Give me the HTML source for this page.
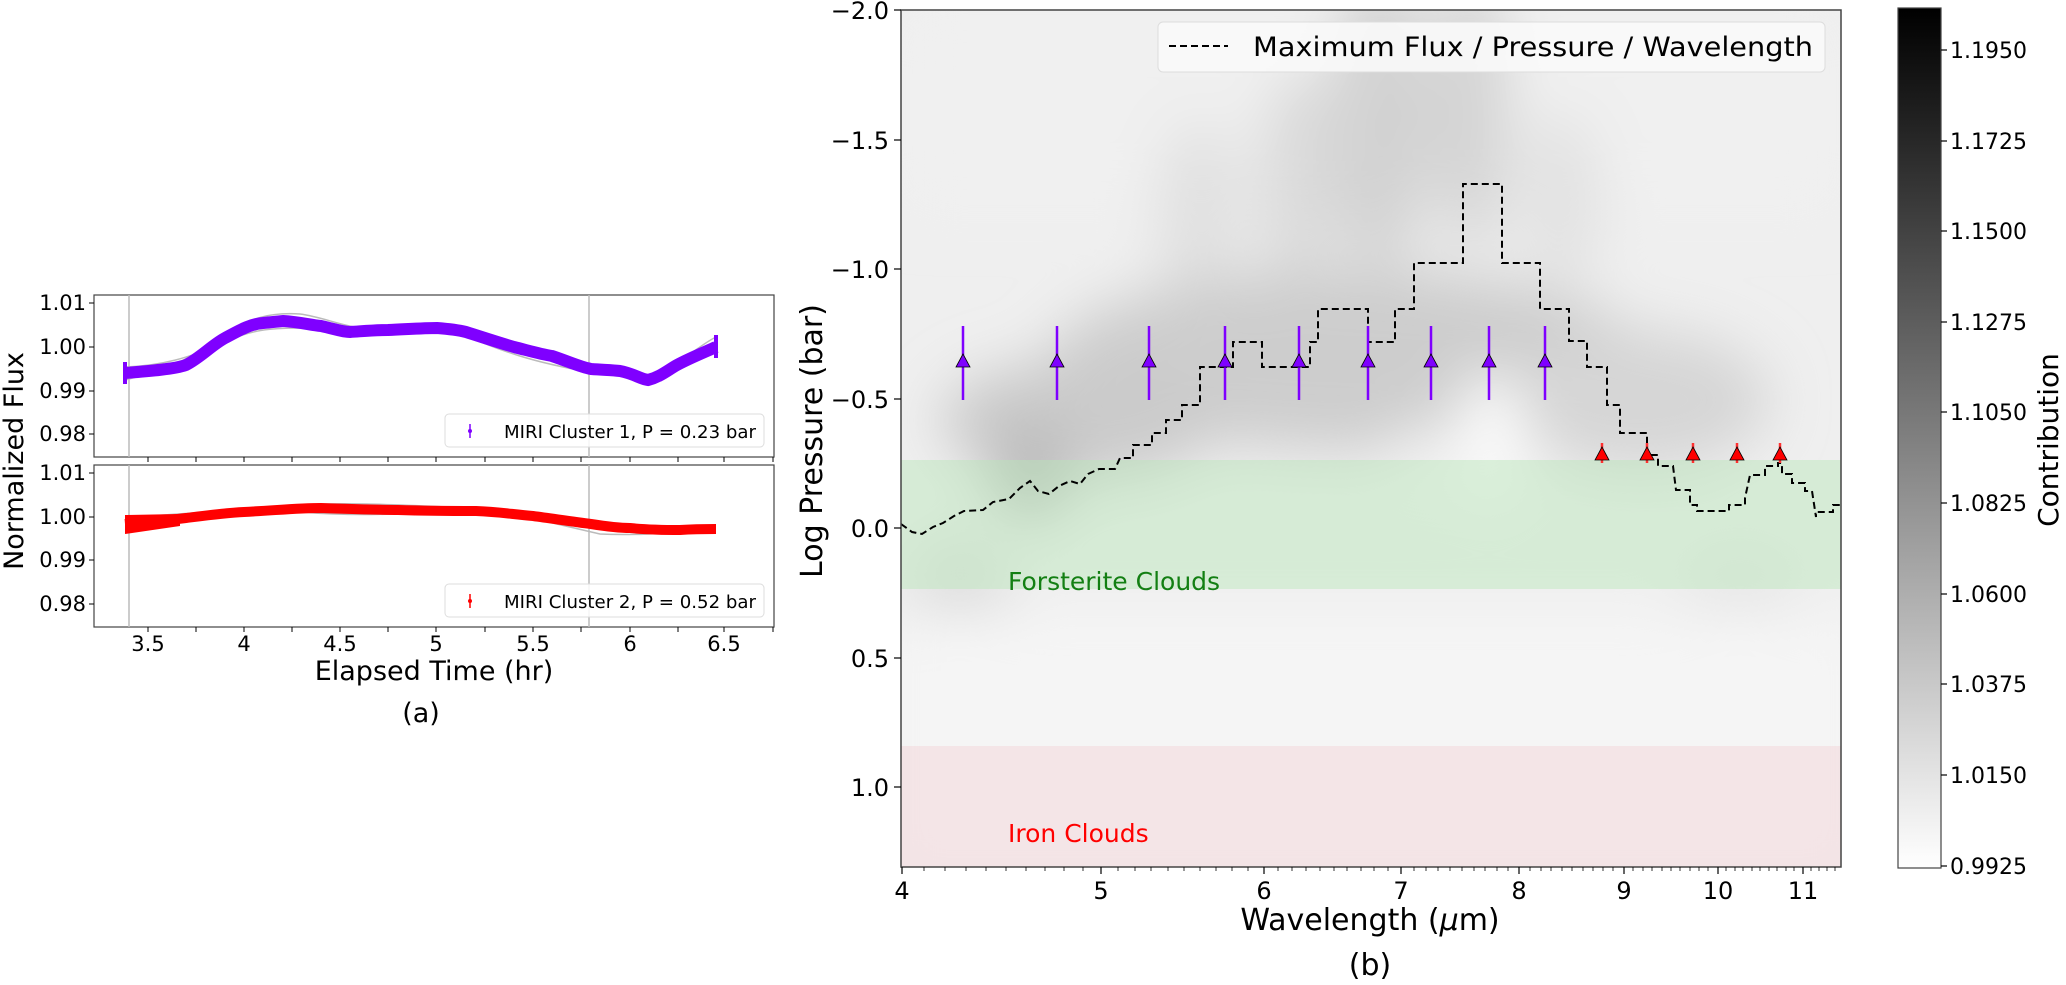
<!DOCTYPE html>
<html><head><meta charset="utf-8"><style>
html,body{margin:0;padding:0;background:#fff;}
svg{display:block;}
text{font-family:"DejaVu Sans","Liberation Sans",sans-serif;fill:#000;}
</style></head><body>
<svg width="2066" height="985" viewBox="0 0 2066 985" xmlns="http://www.w3.org/2000/svg">
<defs>
<filter id="bl" x="-50%" y="-50%" width="200%" height="200%"><feGaussianBlur stdDeviation="28"/></filter>
<linearGradient id="cb" x1="0" y1="1" x2="0" y2="0">
<stop offset="0" stop-color="#ffffff"/><stop offset="1" stop-color="#000000"/></linearGradient>
<clipPath id="cp"><rect x="901" y="10" width="940" height="857"/></clipPath>
</defs>

<!-- ===== LEFT PANEL (a) ===== -->
<g stroke="#000" stroke-width="1.2" fill="none">
<rect x="94" y="295" width="680" height="162" stroke="#444"/>
<rect x="94" y="465" width="680" height="162" stroke="#444"/>
</g>
<line x1="129" y1="295" x2="129" y2="457" stroke="#bbb" stroke-width="1.5"/>
<line x1="589" y1="295" x2="589" y2="457" stroke="#bbb" stroke-width="1.5"/>
<line x1="129" y1="465" x2="129" y2="627" stroke="#bbb" stroke-width="1.5"/>
<line x1="589" y1="465" x2="589" y2="627" stroke="#bbb" stroke-width="1.5"/>
<path d="M125,380 C160,372 190,360 225,335 C250,318 270,312 300,314 C330,318 345,330 390,330 C420,326 440,324 466,330 C500,340 530,352 590,365 C620,372 640,382 650,384 C670,370 700,345 716,337" fill="none" stroke="#bbb" stroke-width="1.5"/>
<path d="M125,367 C160,366 190,358 225,342 C250,330 270,328 300,328 C330,330 345,336 390,334 C420,332 440,332 466,336 C500,350 530,362 590,372 C620,374 640,378 650,376 C670,364 700,354 716,352" fill="none" stroke="#bbb" stroke-width="1.5"/>
<path d="M125,373 C150,371 175,369 186,365 C200,358 212,345 225,338 C240,330 250,324 263,323 L283,321 C300,322 310,325 321,326 C335,329 342,332 350,332 C365,331 375,330 388,330 C410,329 425,328 437,328 C450,329 458,330 466,332 C485,338 500,343 514,347 C530,351 540,354 552,356 C570,362 580,367 591,369 C605,370 612,370 620,371 C635,374 640,379 648,380 C660,377 668,370 677,365 C690,358 705,352 716,347" fill="none" stroke="#7f00ff" stroke-width="12"/>
<line x1="125" y1="362" x2="125" y2="384" stroke="#7f00ff" stroke-width="4"/>
<line x1="716" y1="335" x2="716" y2="358" stroke="#7f00ff" stroke-width="4"/>
<path d="M125,530 C180,520 230,510 300,505 C350,502 400,505 470,508 C520,514 560,525 600,534 C640,536 680,532 716,530" fill="none" stroke="#bbb" stroke-width="1.5"/>
<path d="M125,518 C180,514 230,508 300,512 C350,516 400,515 470,510 C520,514 560,520 600,528 C640,530 680,528 716,526" fill="none" stroke="#bbb" stroke-width="1.5"/>
<path d="M125,524 C150,522 170,520 186,518 C210,515 225,513 244,512 C280,510 300,508 321,508 C350,509 380,510 398,510 C430,511 450,511 476,511 C500,512 510,514 533,516 C555,519 575,522 591,524 C610,527 620,528 630,528 C650,530 665,530 680,530 C695,529 705,529 716,529" fill="none" stroke="#ff0000" stroke-width="10"/>
<path d="M125,515 L180,514 L180,526 L125,534 Z" fill="#ff0000"/>
<rect x="445" y="414" width="319" height="33" rx="4" fill="#fff" fill-opacity="0.85" stroke="#ddd"/>
<line x1="470" y1="424" x2="470" y2="438" stroke="#7f00ff" stroke-width="1.5"/><circle cx="470" cy="431" r="2" fill="#7f00ff"/>
<text x="504" y="438" font-size="18" textLength="252" lengthAdjust="spacingAndGlyphs">MIRI Cluster 1, P = 0.23 bar</text>
<rect x="445" y="584" width="319" height="33" rx="4" fill="#fff" fill-opacity="0.85" stroke="#ddd"/>
<line x1="470" y1="594" x2="470" y2="608" stroke="#ff0000" stroke-width="1.5"/><circle cx="470" cy="601" r="2" fill="#ff0000"/>
<text x="504" y="608" font-size="18" textLength="252" lengthAdjust="spacingAndGlyphs">MIRI Cluster 2, P = 0.52 bar</text>
<g stroke="#000" stroke-width="1">
<line x1="89" y1="303" x2="94" y2="303"/><line x1="89" y1="347" x2="94" y2="347"/><line x1="89" y1="391" x2="94" y2="391"/><line x1="89" y1="434" x2="94" y2="434"/>
<line x1="89" y1="473" x2="94" y2="473"/><line x1="89" y1="517" x2="94" y2="517"/><line x1="89" y1="560" x2="94" y2="560"/><line x1="89" y1="604" x2="94" y2="604"/>
</g>
<g font-size="21" text-anchor="end">
<text x="86" y="310">1.01</text><text x="86" y="354">1.00</text><text x="86" y="398">0.99</text><text x="86" y="441">0.98</text>
<text x="86" y="480">1.01</text><text x="86" y="524">1.00</text><text x="86" y="567">0.99</text><text x="86" y="611">0.98</text>
</g>
<g stroke="#000" stroke-width="1">
<line x1="148" y1="457" x2="148" y2="462"/><line x1="196" y1="457" x2="196" y2="462"/><line x1="244" y1="457" x2="244" y2="462"/><line x1="292" y1="457" x2="292" y2="462"/><line x1="340" y1="457" x2="340" y2="462"/><line x1="388" y1="457" x2="388" y2="462"/><line x1="436" y1="457" x2="436" y2="462"/><line x1="485" y1="457" x2="485" y2="462"/><line x1="533" y1="457" x2="533" y2="462"/><line x1="581" y1="457" x2="581" y2="462"/><line x1="630" y1="457" x2="630" y2="462"/><line x1="678" y1="457" x2="678" y2="462"/><line x1="724" y1="457" x2="724" y2="462"/><line x1="773" y1="457" x2="773" y2="462"/>
<line x1="148" y1="627" x2="148" y2="632"/><line x1="196" y1="627" x2="196" y2="632"/><line x1="244" y1="627" x2="244" y2="632"/><line x1="292" y1="627" x2="292" y2="632"/><line x1="340" y1="627" x2="340" y2="632"/><line x1="388" y1="627" x2="388" y2="632"/><line x1="436" y1="627" x2="436" y2="632"/><line x1="485" y1="627" x2="485" y2="632"/><line x1="533" y1="627" x2="533" y2="632"/><line x1="581" y1="627" x2="581" y2="632"/><line x1="630" y1="627" x2="630" y2="632"/><line x1="678" y1="627" x2="678" y2="632"/><line x1="724" y1="627" x2="724" y2="632"/><line x1="773" y1="627" x2="773" y2="632"/>
</g>
<g font-size="21" text-anchor="middle">
<text x="148" y="651">3.5</text><text x="244" y="651">4</text><text x="340" y="651">4.5</text><text x="436" y="651">5</text><text x="533" y="651">5.5</text><text x="630" y="651">6</text><text x="724" y="651">6.5</text>
</g>
<text x="434" y="680" font-size="27" text-anchor="middle">Elapsed Time (hr)</text>
<text x="421" y="722" font-size="27" text-anchor="middle">(a)</text>
<text transform="translate(23,461) rotate(-90)" font-size="27" text-anchor="middle">Normalized Flux</text>

<!-- ===== RIGHT PANEL (b) ===== -->
<g clip-path="url(#cp)">
<rect x="901" y="10" width="940" height="857" fill="#efefef"/>
<g filter="url(#bl)">
<rect x="901" y="10" width="940" height="200" fill="#f0f0f0"/>
<ellipse cx="1380" cy="120" rx="50" ry="150" fill="#d2d2d2"/>
<ellipse cx="1470" cy="110" rx="40" ry="140" fill="#d4d4d4"/>
<ellipse cx="1300" cy="180" rx="40" ry="110" fill="#dadada"/>
<ellipse cx="1200" cy="220" rx="40" ry="100" fill="#e0e0e0"/>
<ellipse cx="1560" cy="200" rx="40" ry="90" fill="#e2e2e2"/>
<ellipse cx="1350" cy="360" rx="300" ry="90" fill="#cdcdcd"/>
<ellipse cx="1080" cy="420" rx="140" ry="60" fill="#cbcbcb"/>
<ellipse cx="1030" cy="470" rx="40" ry="50" fill="#bbbbbb"/>
<ellipse cx="1640" cy="400" rx="130" ry="70" fill="#d6d6d6"/>
<ellipse cx="1490" cy="440" rx="35" ry="70" fill="#fafafa"/>
<ellipse cx="1420" cy="460" rx="25" ry="40" fill="#f2f2f2"/>
<ellipse cx="1740" cy="600" rx="60" ry="50" fill="#e6e6e6"/>
<ellipse cx="960" cy="600" rx="50" ry="60" fill="#dcdcdc"/>
<rect x="880" y="610" width="990" height="280" fill="#f5f5f5"/>
</g>
</g>
<rect x="901" y="460" width="940" height="129" fill="#b8e6b8" fill-opacity="0.45"/>
<rect x="901" y="746" width="940" height="121" fill="#f2cdd2" fill-opacity="0.4"/>
<text x="1008" y="590" font-size="25" style="fill:#137f13">Forsterite Clouds</text>
<text x="1008" y="842" font-size="25" style="fill:#ff0000">Iron Clouds</text>
<path d="M901,524 L912,532 L922,534 L933,527 L943,523 L954,516 L964,511 L983,510 L993,502 L1009,499 L1020,488 L1030,481 L1038,491 L1049,494 L1059,486 L1070,481 L1080,484 L1088,474 L1099,469 L1115,469 L1120,458 H1133 V445 H1152 V433 H1166 V420 H1182 V405 H1200 V387 H1200 V367 H1233 V342 H1262 V367 H1310 V342 H1318 V309 H1368 V342 H1395 V309 H1414 V263 H1463 V184 H1502 V263 H1540 V309 H1569 V341 H1587 V367 H1607 V405 H1620 V433 H1647 V455 H1658 V466 H1673 L1676,490 H1690 V505 H1697 V511 H1729 V505 H1745 V498 L1750,475 H1765 V466 H1778 V463 H1782 V474 H1792 V483 H1805 V491 H1812 L1816,517 V512 H1833 V505 H1841" fill="none" stroke="#000" stroke-width="2" stroke-dasharray="7,4"/>
<g stroke="#7f00ff" stroke-width="2.5">
<line x1="963" y1="326" x2="963" y2="400"/><line x1="1057" y1="326" x2="1057" y2="400"/><line x1="1149" y1="326" x2="1149" y2="400"/><line x1="1225" y1="326" x2="1225" y2="400"/><line x1="1299" y1="326" x2="1299" y2="400"/><line x1="1368" y1="326" x2="1368" y2="400"/><line x1="1431" y1="326" x2="1431" y2="400"/><line x1="1489" y1="326" x2="1489" y2="400"/><line x1="1545" y1="326" x2="1545" y2="400"/>
</g>
<g fill="#7f00ff" stroke="#000" stroke-width="0.8">
<path d="M963,354 l-7,13 h14z"/><path d="M1057,354 l-7,13 h14z"/><path d="M1149,354 l-7,13 h14z"/><path d="M1225,354 l-7,13 h14z"/><path d="M1299,354 l-7,13 h14z"/><path d="M1368,354 l-7,13 h14z"/><path d="M1431,354 l-7,13 h14z"/><path d="M1489,354 l-7,13 h14z"/><path d="M1545,354 l-7,13 h14z"/>
</g>
<g stroke="#ff3030" stroke-width="2.5">
<line x1="1602" y1="443" x2="1602" y2="463"/><line x1="1647" y1="443" x2="1647" y2="463"/><line x1="1693" y1="443" x2="1693" y2="463"/><line x1="1737" y1="443" x2="1737" y2="463"/><line x1="1780" y1="443" x2="1780" y2="463"/>
</g>
<g fill="#ff0000" stroke="#000" stroke-width="0.8">
<path d="M1602,447 l-7,13 h14z"/><path d="M1647,447 l-7,13 h14z"/><path d="M1693,447 l-7,13 h14z"/><path d="M1737,447 l-7,13 h14z"/><path d="M1780,447 l-7,13 h14z"/>
</g>
<rect x="1158" y="22" width="667" height="50" rx="5" fill="#fafafa" fill-opacity="0.9" stroke="#ddd"/>
<line x1="1169" y1="46" x2="1228" y2="46" stroke="#000" stroke-width="2" stroke-dasharray="7,4"/>
<text x="1253" y="56" font-size="27" textLength="560" lengthAdjust="spacingAndGlyphs">Maximum Flux / Pressure / Wavelength</text>
<rect x="901" y="10" width="940" height="857" fill="none" stroke="#444" stroke-width="1.5"/>
<g stroke="#000" stroke-width="1.2">
<line x1="894" y1="10" x2="901" y2="10"/><line x1="894" y1="140" x2="901" y2="140"/><line x1="894" y1="269" x2="901" y2="269"/><line x1="894" y1="399" x2="901" y2="399"/><line x1="894" y1="528" x2="901" y2="528"/><line x1="894" y1="658" x2="901" y2="658"/><line x1="894" y1="787" x2="901" y2="787"/>
</g>
<g font-size="24" text-anchor="end">
<text x="889" y="19">−2.0</text><text x="889" y="149">−1.5</text><text x="889" y="278">−1.0</text><text x="889" y="408">−0.5</text><text x="889" y="537">0.0</text><text x="889" y="667">0.5</text><text x="889" y="796">1.0</text>
</g>
<text transform="translate(822,441) rotate(-90)" font-size="30" text-anchor="middle">Log Pressure (bar)</text>
<g stroke="#000" stroke-width="1.2">
<line x1="902" y1="867" x2="902" y2="874"/><line x1="1101" y1="867" x2="1101" y2="874"/><line x1="1264" y1="867" x2="1264" y2="874"/><line x1="1401" y1="867" x2="1401" y2="874"/><line x1="1519" y1="867" x2="1519" y2="874"/><line x1="1624" y1="867" x2="1624" y2="874"/><line x1="1718" y1="867" x2="1718" y2="874"/><line x1="1803" y1="867" x2="1803" y2="874"/>
</g>
<g stroke="#000" stroke-width="0.8">
<line x1="924" y1="867" x2="924" y2="871"/><line x1="945" y1="867" x2="945" y2="871"/><line x1="966" y1="867" x2="966" y2="871"/><line x1="986" y1="867" x2="986" y2="871"/><line x1="1006" y1="867" x2="1006" y2="871"/><line x1="1026" y1="867" x2="1026" y2="871"/><line x1="1045" y1="867" x2="1045" y2="871"/><line x1="1064" y1="867" x2="1064" y2="871"/><line x1="1083" y1="867" x2="1083" y2="871"/>
<line x1="1118" y1="867" x2="1118" y2="871"/><line x1="1135" y1="867" x2="1135" y2="871"/><line x1="1151" y1="867" x2="1151" y2="871"/><line x1="1168" y1="867" x2="1168" y2="871"/><line x1="1184" y1="867" x2="1184" y2="871"/><line x1="1200" y1="867" x2="1200" y2="871"/><line x1="1216" y1="867" x2="1216" y2="871"/><line x1="1232" y1="867" x2="1232" y2="871"/><line x1="1248" y1="867" x2="1248" y2="871"/>
<line x1="1278" y1="867" x2="1278" y2="871"/><line x1="1292" y1="867" x2="1292" y2="871"/><line x1="1306" y1="867" x2="1306" y2="871"/><line x1="1320" y1="867" x2="1320" y2="871"/><line x1="1334" y1="867" x2="1334" y2="871"/><line x1="1347" y1="867" x2="1347" y2="871"/><line x1="1361" y1="867" x2="1361" y2="871"/><line x1="1374" y1="867" x2="1374" y2="871"/><line x1="1388" y1="867" x2="1388" y2="871"/>
<line x1="1414" y1="867" x2="1414" y2="871"/><line x1="1426" y1="867" x2="1426" y2="871"/><line x1="1438" y1="867" x2="1438" y2="871"/><line x1="1450" y1="867" x2="1450" y2="871"/><line x1="1462" y1="867" x2="1462" y2="871"/><line x1="1474" y1="867" x2="1474" y2="871"/><line x1="1485" y1="867" x2="1485" y2="871"/><line x1="1497" y1="867" x2="1497" y2="871"/><line x1="1508" y1="867" x2="1508" y2="871"/>
<line x1="1530" y1="867" x2="1530" y2="871"/><line x1="1541" y1="867" x2="1541" y2="871"/><line x1="1551" y1="867" x2="1551" y2="871"/><line x1="1562" y1="867" x2="1562" y2="871"/><line x1="1572" y1="867" x2="1572" y2="871"/><line x1="1583" y1="867" x2="1583" y2="871"/><line x1="1593" y1="867" x2="1593" y2="871"/><line x1="1603" y1="867" x2="1603" y2="871"/><line x1="1613" y1="867" x2="1613" y2="871"/>
<line x1="1633" y1="867" x2="1633" y2="871"/><line x1="1643" y1="867" x2="1643" y2="871"/><line x1="1652" y1="867" x2="1652" y2="871"/><line x1="1662" y1="867" x2="1662" y2="871"/><line x1="1671" y1="867" x2="1671" y2="871"/><line x1="1680" y1="867" x2="1680" y2="871"/><line x1="1690" y1="867" x2="1690" y2="871"/><line x1="1699" y1="867" x2="1699" y2="871"/><line x1="1708" y1="867" x2="1708" y2="871"/>
<line x1="1726" y1="867" x2="1726" y2="871"/><line x1="1735" y1="867" x2="1735" y2="871"/><line x1="1743" y1="867" x2="1743" y2="871"/><line x1="1752" y1="867" x2="1752" y2="871"/><line x1="1760" y1="867" x2="1760" y2="871"/><line x1="1769" y1="867" x2="1769" y2="871"/><line x1="1777" y1="867" x2="1777" y2="871"/><line x1="1786" y1="867" x2="1786" y2="871"/><line x1="1794" y1="867" x2="1794" y2="871"/>
<line x1="1811" y1="867" x2="1811" y2="871"/><line x1="1819" y1="867" x2="1819" y2="871"/><line x1="1827" y1="867" x2="1827" y2="871"/><line x1="1835" y1="867" x2="1835" y2="871"/>
</g>
<g font-size="24" text-anchor="middle">
<text x="902" y="899">4</text><text x="1101" y="899">5</text><text x="1264" y="899">6</text><text x="1401" y="899">7</text><text x="1519" y="899">8</text><text x="1624" y="899">9</text><text x="1718" y="899">10</text><text x="1803" y="899">11</text>
</g>
<text x="1370" y="930" font-size="30" text-anchor="middle">Wavelength (<tspan font-style="italic">μ</tspan>m)</text>
<text x="1370" y="975" font-size="30" text-anchor="middle">(b)</text>

<rect x="1898" y="8" width="43" height="860" fill="url(#cb)" stroke="#444" stroke-width="1.2"/>
<g stroke="#000" stroke-width="1.2">
<line x1="1941" y1="50" x2="1947" y2="50"/><line x1="1941" y1="141" x2="1947" y2="141"/><line x1="1941" y1="231" x2="1947" y2="231"/><line x1="1941" y1="322" x2="1947" y2="322"/><line x1="1941" y1="412" x2="1947" y2="412"/><line x1="1941" y1="503" x2="1947" y2="503"/><line x1="1941" y1="594" x2="1947" y2="594"/><line x1="1941" y1="684" x2="1947" y2="684"/><line x1="1941" y1="775" x2="1947" y2="775"/><line x1="1941" y1="866" x2="1947" y2="866"/>
</g>
<g font-size="22">
<text x="1950" y="58">1.1950</text><text x="1950" y="149">1.1725</text><text x="1950" y="239">1.1500</text><text x="1950" y="330">1.1275</text><text x="1950" y="420">1.1050</text><text x="1950" y="511">1.0825</text><text x="1950" y="602">1.0600</text><text x="1950" y="692">1.0375</text><text x="1950" y="783">1.0150</text><text x="1950" y="874">0.9925</text>
</g>
<text transform="translate(2058,440) rotate(-90)" font-size="28" text-anchor="middle">Contribution</text>
</svg>
</body></html>
